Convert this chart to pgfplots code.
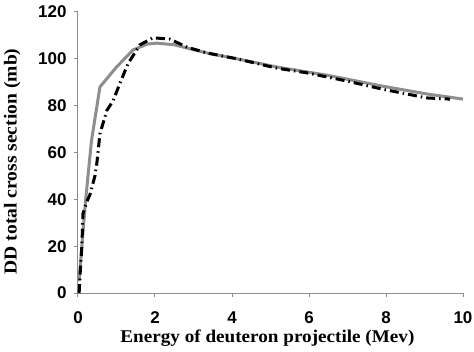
\documentclass[border=0pt]{standalone}
\usepackage{pgfplots}
\pgfplotsset{compat=1.18}
\usepackage{fontspec}
\setmainfont{Liberation Serif}
\setsansfont{Liberation Sans}
\newfontfamily\labfont[FakeStretch=1.07]{Liberation Serif}
\definecolor{axgrey}{HTML}{8C8C8C}
\definecolor{lgrey}{HTML}{8E8E8E}
\begin{document}
\begin{tikzpicture}
\path[use as bounding box] (-78pt,-58pt) rectangle (396pt,293pt);
\begin{axis}[
  at={(0pt,0pt)}, anchor=south west,
  scale only axis, width=385pt, height=281pt,
  xmin=0, xmax=10, ymin=0, ymax=120,
  xtick={0,2,...,10}, ytick={0,20,...,120},
  axis x line*=bottom, axis y line*=left,
  axis line style={axgrey, line width=1pt},
  tick style={axgrey, line width=1pt},
  tick align=outside, major tick length=4pt,
  x axis line style={-}, y axis line style={-},
  ticklabel style={font=\sffamily\bfseries\fontsize{17}{17}\selectfont, text=black},
  xticklabel style={yshift=-11pt},
  yticklabel style={xshift=-4pt},
  /pgf/number format/assume math mode=true,
  xlabel={\labfont\bfseries Energy of deuteron projectile (Mev)},
  ylabel={\labfont\bfseries DD total cross section (mb)},
  every axis x label/.style={at={(axis description cs:0.492,-0.162)}, anchor=center, font=\fontsize{17.9}{18}\selectfont},
  every axis y label/.style={at={(axis description cs:-0.171,0.468)}, rotate=90, anchor=center, font=\fontsize{18.3}{18}\selectfont},
  clip=false,
]
\addplot[lgrey, line width=3pt, line join=round] coordinates {
(0.03,5) (0.1,20) (0.2,40) (0.35,65) (0.57,88) (1.0,96.5) (1.43,103.8) (1.8,106.3) (2.05,106.7) (2.5,106) (3.35,102.5) (4.13,100) (5.17,96.5) (6.47,93) (7.92,88.3) (9.06,85) (10,82.8)
};
\addplot[black, line width=3pt, dash pattern=on 9pt off 4pt on 1.5pt off 4pt] coordinates {
(0.03,0) (0.05,7) (0.1,20) (0.13,34) (0.23,39) (0.31,42) (0.44,50) (0.49,55.5) (0.57,68) (0.75,78) (0.91,82) (1.09,89.6) (1.3,98) (1.61,106) (1.95,109) (2.39,108.4) (2.83,105) (3.35,102.5) (4.13,100) (5.17,96) (5.95,94) (6.99,90.5) (7.92,87) (9.06,83.3) (9.66,82.8)
};
\end{axis}
\end{tikzpicture}
\end{document}
